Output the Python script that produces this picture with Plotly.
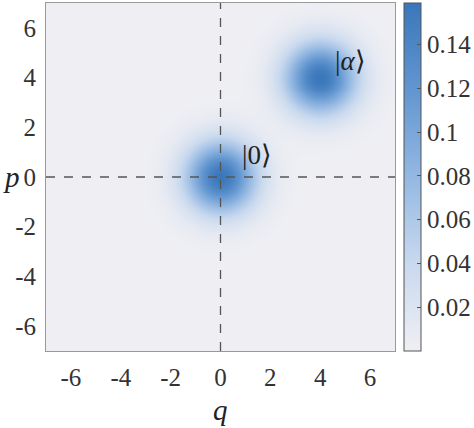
import numpy as np
import plotly.graph_objects as go

# State parameters
state_labels = ["|0⟩", "|<i>α</i>⟩"]
center_q = [0.0, 4.0]
center_p = [0.0, 4.0]
peak_value = [0.159, 0.159]
width_sigma = [1.0, 1.0]
label_q = [1.45, 5.2]
label_p = [0.9, 4.65]

x_ticks = [-6, -4, -2, 0, 2, 4, 6]
x_ticktext = ["-6", "-4", "-2", "0", "2", "4", "6"]
y_ticks = [-6, -4, -2, 0, 2, 4, 6]
y_ticktext = ["-6", "-4", "-2", "0", "2", "4", "6"]
cb_ticks = [0.02, 0.04, 0.06, 0.08, 0.1, 0.12, 0.14]
cb_ticktext = ["0.02", "0.04", "0.06", "0.08", "0.1", "0.12", "0.14"]

q = np.linspace(-7, 7, 351)
p = np.linspace(-7, 7, 351)
Q, P = np.meshgrid(q, p)
Z = np.zeros_like(Q)
for q0, p0, a, s in zip(center_q, center_p, peak_value, width_sigma):
    Z = Z + a * np.exp(-((Q - q0) ** 2 + (P - p0) ** 2) / (2 * s ** 2))

FONT = "Liberation Serif"
colorscale = [
    [0.0, "#EFEFF3"],
    [0.25, "#C9D9EE"],
    [0.5, "#94B8E2"],
    [0.75, "#6296D0"],
    [1.0, "#3A77BA"],
]

fig = go.Figure()
fig.add_trace(go.Heatmap(
    x=q, y=p, z=Z, zmin=0, zmax=0.159, colorscale=colorscale,
    zsmooth="best", hoverinfo="skip",
    colorbar=dict(
        x=1.026, xanchor="left", xref="paper",
        y=0.5, yanchor="middle", len=1.0, lenmode="fraction",
        thickness=17, thicknessmode="pixels",
        outlinecolor="#555555", outlinewidth=1,
        tickvals=cb_ticks, ticktext=cb_ticktext,
        ticks="inside", ticklen=4, tickcolor="#555555",
        tickfont=dict(family=FONT, size=25, color="#333333"),
        ypad=0, xpad=0,
    ),
    showscale=True,
))

# dashed axes lines
fig.add_shape(type="line", x0=0, x1=0, y0=-7, y1=7, xref="x", yref="y",
              line=dict(color="#555555", width=1.3, dash="dash"))
fig.add_shape(type="line", x0=-7, x1=7, y0=0, y1=0, xref="x", yref="y",
              line=dict(color="#555555", width=1.3, dash="dash"))

for t, lq, lp in zip(state_labels, label_q, label_p):
    fig.add_annotation(x=lq, y=lp, xref="x", yref="y", text=t, showarrow=False,
                       font=dict(family=FONT, size=27, color="#222222"))

fig.add_annotation(x=-0.1, y=0.5, xref="paper", yref="paper", text="<i>p</i>",
                   showarrow=False, xanchor="center", yanchor="middle",
                   font=dict(family=FONT, size=29, color="#222222"))
fig.add_annotation(x=0.5, y=-0.17, xref="paper", yref="paper", text="<i>q</i>",
                   showarrow=False, xanchor="center", yanchor="middle",
                   font=dict(family=FONT, size=29, color="#222222"))

fig.update_xaxes(range=[-7, 7], tickvals=x_ticks, ticktext=x_ticktext,
                 showgrid=False, zeroline=False, automargin=False,
                 showline=True, linecolor="#999999", linewidth=1, mirror=True,
                 ticks="", tickfont=dict(family=FONT, size=25, color="#333333"),
                 ticklabelstandoff=4)
fig.update_yaxes(range=[-7, 7], tickvals=y_ticks, ticktext=y_ticktext,
                 showgrid=False, zeroline=False, automargin=False,
                 showline=True, linecolor="#999999", linewidth=1, mirror=True,
                 ticks="", tickfont=dict(family=FONT, size=25, color="#333333"),
                 ticklabelstandoff=4)

fig.update_layout(
    width=474, height=428,
    margin=dict(l=46, r=79, t=3, b=77, autoexpand=False),
    paper_bgcolor="white", plot_bgcolor="#EFEFF3",
    showlegend=False,
)

fig.write_html("out.html", config={"displayModeBar": False},
               post_script="document.body.style.margin='0';document.body.style.overflow='hidden';")
